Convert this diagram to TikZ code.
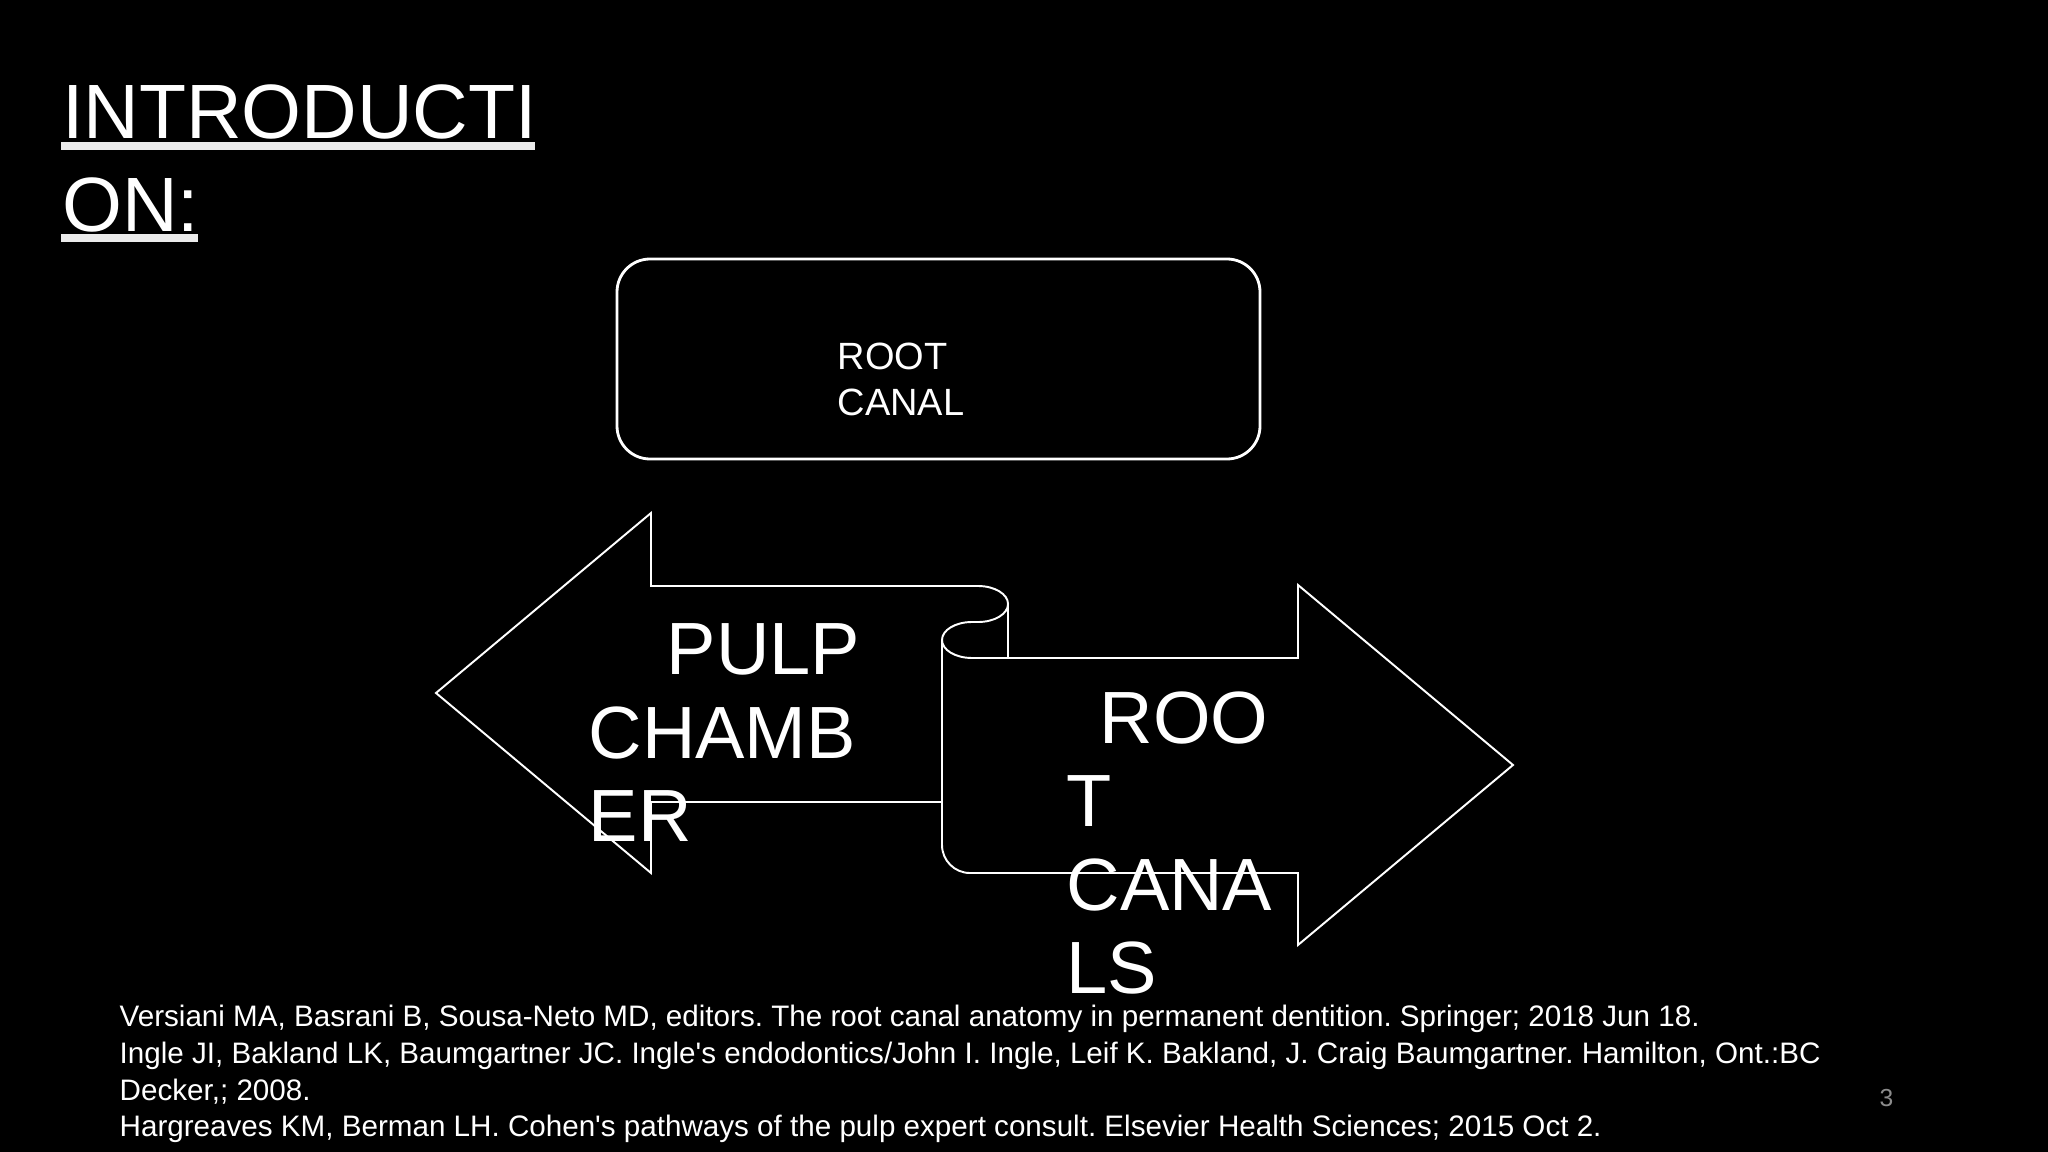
\documentclass[tikz,border=0pt]{standalone}
\usepackage{fontspec}
\setmainfont{Liberation Sans}
\newfontfamily\plainfont{Liberation Sans}
\begin{document}
\begin{tikzpicture}[x=0.01cm,y=-0.01cm,
  shp/.style={draw=white,fill=black,line width=0.55pt,line join=miter},
  wline/.style={draw=white,line width=0.55pt},
  ttl/.style={anchor=base west,inner sep=0pt,text=white,font=\fontsize{21.9pt}{26pt}\plainfont},
  big/.style={anchor=base west,inner sep=0pt,text=white,font=\fontsize{21.05pt}{25pt}\plainfont},
  small/.style={anchor=base west,inner sep=0pt,text=white,font=\fontsize{10.8pt}{12.6pt}\plainfont},
  refs/.style={anchor=base west,inner sep=0pt,text=white,font=\fontsize{8.42pt}{10pt}\plainfont\frenchspacing},
]
\fill[black] (0,0) rectangle (2048,1152);
\useasboundingbox (0,0) rectangle (2048,1152);

% Title
\node[ttl] (t1) at (61.4,139) {INTRODUCTI};
\node[ttl] (t2) at (61.4,231.7) {ON:};
\fill[white!92!black] (61.4,142) rectangle (534.6,150);
\fill[white!92!black] (61.4,234) rectangle (197.6,242);

% Root canal box
\draw[white,line width=0.8pt,rounded corners=0.33cm] (617,259) rectangle (1260,459);
\node[small] (rc1) at (837,370) {ROOT};
\node[small] (rc2) at (837,415.7) {CANAL};

% Left arrow (pulp chamber) with curl
\path[shp] (942,802) -- (651,802) -- (651,873) -- (436,693) -- (651,513) -- (651,586)
  -- (978,586) arc[start angle=90,end angle=-90,x radius=0.30cm,y radius=0.18cm]
  -- (972,622) arc[start angle=90,end angle=180,x radius=0.30cm,y radius=0.18cm] -- cycle;
% Right arrow (root canals)
\path[shp] (1298,658) -- (972,658) arc[start angle=270,end angle=180,x radius=0.30cm,y radius=0.18cm]
  -- (942,845) arc[start angle=180,end angle=270,radius=0.28cm]
  -- (1298,873) -- (1298,945) -- (1513,765) -- (1298,585) -- cycle;
\coordinate (c1) at (1008,604);
\coordinate (c2) at (1008,658);
\draw[wline] (c1) -- (c2);

% Arrow texts
\node[big] (p1) at (666,675) {PULP};
\node[big] (p2) at (588,758.3) {CHAMB};
\node[big] (p3) at (588,841.7) {ER};
\node[big] (r1) at (1099,743.3) {ROO};
\node[big] (r2) at (1066,826.7) {T};
\node[big] (r3) at (1066,910) {CANA};
\node[big] (r4) at (1066,993.3) {LS};

% References
\node[refs] (ref1) at (119,1026.7) {Versiani MA, Basrani B, Sousa-Neto MD, editors. The root canal anatomy in permanent dentition. Springer; 2018 Jun 18.};
\node[refs] (ref2) at (119,1063.3) {Ingle JI, Bakland LK, Baumgartner JC. Ingle's endodontics/John I. Ingle, Leif K. Bakland, J. Craig Baumgartner. Hamilton, Ont.:BC};
\node[refs] (ref3) at (119,1100.3) {Decker,; 2008.};
\node[refs] (ref4) at (119,1136.7) {Hargreaves KM, Berman LH. Cohen's pathways of the pulp expert consult. Elsevier Health Sciences; 2015 Oct 2.};

% Page number
\node[anchor=base west,inner sep=0pt,text=black!45!white,font=\fontsize{7pt}{8pt}\plainfont] (pg) at (1879,1106) {3};
\end{tikzpicture}
\end{document}
